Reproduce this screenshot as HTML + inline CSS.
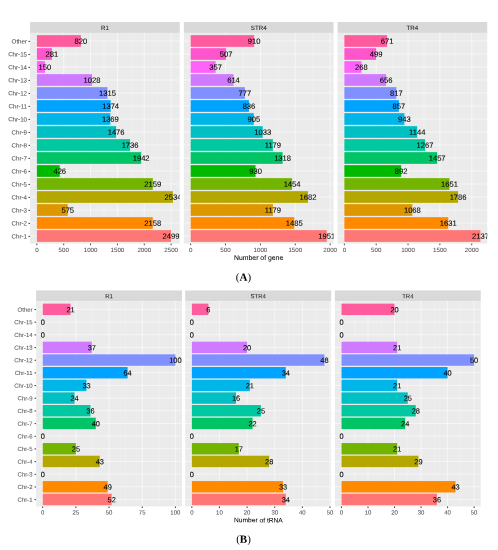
<!DOCTYPE html>
<html><head><meta charset="utf-8"><title>Figure</title>
<style>html,body{margin:0;padding:0;background:#fff}svg{display:block}text{font-family:"Liberation Sans",sans-serif}</style>
</head><body>
<svg width="498" height="550" viewBox="0 0 498 550">
<rect width="498" height="550" fill="#fff"/>
<rect x="30.05" y="22" width="149.7" height="10.9" fill="#d9d9d9"/>
<text transform="translate(104.9,29.97) skewY(0.15)" font-size="6.2" fill="#1a1a1a" stroke="#1a1a1a" stroke-width="0.04" text-anchor="middle">R1</text>
<rect x="30.05" y="32.9" width="149.7" height="210.7" fill="#ebebeb"/>
<line x1="50.28" x2="50.28" y1="32.9" y2="243.6" stroke="#fff" stroke-width="0.22"/>
<line x1="77.13" x2="77.13" y1="32.9" y2="243.6" stroke="#fff" stroke-width="0.22"/>
<line x1="103.99" x2="103.99" y1="32.9" y2="243.6" stroke="#fff" stroke-width="0.22"/>
<line x1="130.84" x2="130.84" y1="32.9" y2="243.6" stroke="#fff" stroke-width="0.22"/>
<line x1="157.69" x2="157.69" y1="32.9" y2="243.6" stroke="#fff" stroke-width="0.22"/>
<line x1="36.85" x2="36.85" y1="32.9" y2="243.6" stroke="#fff" stroke-width="0.55"/>
<line x1="36.85" x2="36.85" y1="243.6" y2="245.2" stroke="#2a2a2a" stroke-width="0.9"/>
<text transform="translate(36.85,251.92) skewY(0.15)" font-size="6.2" fill="#4d4d4d" stroke="#4d4d4d" stroke-width="0.04" text-anchor="middle">0</text>
<line x1="63.71" x2="63.71" y1="32.9" y2="243.6" stroke="#fff" stroke-width="0.55"/>
<line x1="63.71" x2="63.71" y1="243.6" y2="245.2" stroke="#2a2a2a" stroke-width="0.9"/>
<text transform="translate(63.71,251.92) skewY(0.15)" font-size="6.2" fill="#4d4d4d" stroke="#4d4d4d" stroke-width="0.04" text-anchor="middle">500</text>
<line x1="90.56" x2="90.56" y1="32.9" y2="243.6" stroke="#fff" stroke-width="0.55"/>
<line x1="90.56" x2="90.56" y1="243.6" y2="245.2" stroke="#2a2a2a" stroke-width="0.9"/>
<text transform="translate(90.56,251.92) skewY(0.15)" font-size="6.2" fill="#4d4d4d" stroke="#4d4d4d" stroke-width="0.04" text-anchor="middle">1000</text>
<line x1="117.41" x2="117.41" y1="32.9" y2="243.6" stroke="#fff" stroke-width="0.55"/>
<line x1="117.41" x2="117.41" y1="243.6" y2="245.2" stroke="#2a2a2a" stroke-width="0.9"/>
<text transform="translate(117.41,251.92) skewY(0.15)" font-size="6.2" fill="#4d4d4d" stroke="#4d4d4d" stroke-width="0.04" text-anchor="middle">1500</text>
<line x1="144.27" x2="144.27" y1="32.9" y2="243.6" stroke="#fff" stroke-width="0.55"/>
<line x1="144.27" x2="144.27" y1="243.6" y2="245.2" stroke="#2a2a2a" stroke-width="0.9"/>
<text transform="translate(144.27,251.92) skewY(0.15)" font-size="6.2" fill="#4d4d4d" stroke="#4d4d4d" stroke-width="0.04" text-anchor="middle">2000</text>
<line x1="171.12" x2="171.12" y1="32.9" y2="243.6" stroke="#fff" stroke-width="0.55"/>
<line x1="171.12" x2="171.12" y1="243.6" y2="245.2" stroke="#2a2a2a" stroke-width="0.9"/>
<text transform="translate(171.12,251.92) skewY(0.15)" font-size="6.2" fill="#4d4d4d" stroke="#4d4d4d" stroke-width="0.04" text-anchor="middle">2500</text>
<line x1="30.05" x2="179.75" y1="41" y2="41" stroke="#fff" stroke-width="0.55"/>
<line x1="30.05" x2="179.75" y1="54" y2="54" stroke="#fff" stroke-width="0.55"/>
<line x1="30.05" x2="179.75" y1="67" y2="67" stroke="#fff" stroke-width="0.55"/>
<line x1="30.05" x2="179.75" y1="80" y2="80" stroke="#fff" stroke-width="0.55"/>
<line x1="30.05" x2="179.75" y1="93" y2="93" stroke="#fff" stroke-width="0.55"/>
<line x1="30.05" x2="179.75" y1="106" y2="106" stroke="#fff" stroke-width="0.55"/>
<line x1="30.05" x2="179.75" y1="119" y2="119" stroke="#fff" stroke-width="0.55"/>
<line x1="30.05" x2="179.75" y1="132" y2="132" stroke="#fff" stroke-width="0.55"/>
<line x1="30.05" x2="179.75" y1="145" y2="145" stroke="#fff" stroke-width="0.55"/>
<line x1="30.05" x2="179.75" y1="158" y2="158" stroke="#fff" stroke-width="0.55"/>
<line x1="30.05" x2="179.75" y1="171" y2="171" stroke="#fff" stroke-width="0.55"/>
<line x1="30.05" x2="179.75" y1="184" y2="184" stroke="#fff" stroke-width="0.55"/>
<line x1="30.05" x2="179.75" y1="197" y2="197" stroke="#fff" stroke-width="0.55"/>
<line x1="30.05" x2="179.75" y1="210" y2="210" stroke="#fff" stroke-width="0.55"/>
<line x1="30.05" x2="179.75" y1="223" y2="223" stroke="#fff" stroke-width="0.55"/>
<line x1="30.05" x2="179.75" y1="236" y2="236" stroke="#fff" stroke-width="0.55"/>
<rect x="36.85" y="35.15" width="44.04" height="11.7" fill="#FF5C9E"/>
<rect x="36.85" y="48.15" width="15.09" height="11.7" fill="#FF55CC"/>
<rect x="36.85" y="61.15" width="8.06" height="11.7" fill="#FF62F8"/>
<rect x="36.85" y="74.15" width="55.21" height="11.7" fill="#D07AFF"/>
<rect x="36.85" y="87.15" width="70.62" height="11.7" fill="#8090FF"/>
<rect x="36.85" y="100.15" width="73.79" height="11.7" fill="#00A4FF"/>
<rect x="36.85" y="113.15" width="73.52" height="11.7" fill="#00B6E8"/>
<rect x="36.85" y="126.15" width="79.27" height="11.7" fill="#00C0C4"/>
<rect x="36.85" y="139.15" width="93.23" height="11.7" fill="#00C8A0"/>
<rect x="36.85" y="152.15" width="104.3" height="11.7" fill="#00C466"/>
<rect x="36.85" y="165.15" width="22.88" height="11.7" fill="#00BA00"/>
<rect x="36.85" y="178.15" width="115.95" height="11.7" fill="#72B400"/>
<rect x="36.85" y="191.15" width="136.09" height="11.7" fill="#B4A800"/>
<rect x="36.85" y="204.15" width="30.88" height="11.7" fill="#DD9700"/>
<rect x="36.85" y="217.15" width="115.9" height="11.7" fill="#FF8A00"/>
<rect x="36.85" y="230.15" width="134.21" height="11.7" fill="#FF7676"/>
<clipPath id="cA0"><rect x="30.05" y="32.9" width="149.7" height="210.7"/></clipPath><g clip-path="url(#cA0)">
<text transform="translate(80.89,43.82) skewY(0.15)" font-size="7.6" fill="#000" stroke="#000" stroke-width="0.09" text-anchor="middle">820</text>
<text transform="translate(51.95,56.82) skewY(0.15)" font-size="7.6" fill="#000" stroke="#000" stroke-width="0.09" text-anchor="middle">281</text>
<text transform="translate(44.91,69.82) skewY(0.15)" font-size="7.6" fill="#000" stroke="#000" stroke-width="0.09" text-anchor="middle">150</text>
<text transform="translate(92.06,82.82) skewY(0.15)" font-size="7.6" fill="#000" stroke="#000" stroke-width="0.09" text-anchor="middle">1028</text>
<text transform="translate(107.48,95.82) skewY(0.15)" font-size="7.6" fill="#000" stroke="#000" stroke-width="0.09" text-anchor="middle">1315</text>
<text transform="translate(110.65,108.82) skewY(0.15)" font-size="7.6" fill="#000" stroke="#000" stroke-width="0.09" text-anchor="middle">1374</text>
<text transform="translate(110.38,121.82) skewY(0.15)" font-size="7.6" fill="#000" stroke="#000" stroke-width="0.09" text-anchor="middle">1369</text>
<text transform="translate(116.12,134.82) skewY(0.15)" font-size="7.6" fill="#000" stroke="#000" stroke-width="0.09" text-anchor="middle">1476</text>
<text transform="translate(130.09,147.82) skewY(0.15)" font-size="7.6" fill="#000" stroke="#000" stroke-width="0.09" text-anchor="middle">1736</text>
<text transform="translate(141.15,160.82) skewY(0.15)" font-size="7.6" fill="#000" stroke="#000" stroke-width="0.09" text-anchor="middle">1942</text>
<text transform="translate(59.73,173.82) skewY(0.15)" font-size="7.6" fill="#000" stroke="#000" stroke-width="0.09" text-anchor="middle">426</text>
<text transform="translate(152.81,186.82) skewY(0.15)" font-size="7.6" fill="#000" stroke="#000" stroke-width="0.09" text-anchor="middle">2159</text>
<text transform="translate(172.95,199.82) skewY(0.15)" font-size="7.6" fill="#000" stroke="#000" stroke-width="0.09" text-anchor="middle">2534</text>
<text transform="translate(67.74,212.82) skewY(0.15)" font-size="7.6" fill="#000" stroke="#000" stroke-width="0.09" text-anchor="middle">575</text>
<text transform="translate(152.75,225.82) skewY(0.15)" font-size="7.6" fill="#000" stroke="#000" stroke-width="0.09" text-anchor="middle">2158</text>
<text transform="translate(171.07,238.82) skewY(0.15)" font-size="7.6" fill="#000" stroke="#000" stroke-width="0.09" text-anchor="middle">2499</text>
</g>
<line x1="28.45" x2="30.05" y1="41.4" y2="41.4" stroke="#2a2a2a" stroke-width="0.9"/>
<text transform="translate(27.05,43.42) skewY(0.15)" font-size="6.2" fill="#4d4d4d" stroke="#4d4d4d" stroke-width="0.04" text-anchor="end">Other</text>
<line x1="28.45" x2="30.05" y1="54.4" y2="54.4" stroke="#2a2a2a" stroke-width="0.9"/>
<text transform="translate(27.05,56.42) skewY(0.15)" font-size="6.2" fill="#4d4d4d" stroke="#4d4d4d" stroke-width="0.04" text-anchor="end">Chr-15</text>
<line x1="28.45" x2="30.05" y1="67.4" y2="67.4" stroke="#2a2a2a" stroke-width="0.9"/>
<text transform="translate(27.05,69.42) skewY(0.15)" font-size="6.2" fill="#4d4d4d" stroke="#4d4d4d" stroke-width="0.04" text-anchor="end">Chr-14</text>
<line x1="28.45" x2="30.05" y1="80.4" y2="80.4" stroke="#2a2a2a" stroke-width="0.9"/>
<text transform="translate(27.05,82.42) skewY(0.15)" font-size="6.2" fill="#4d4d4d" stroke="#4d4d4d" stroke-width="0.04" text-anchor="end">Chr-13</text>
<line x1="28.45" x2="30.05" y1="93.4" y2="93.4" stroke="#2a2a2a" stroke-width="0.9"/>
<text transform="translate(27.05,95.42) skewY(0.15)" font-size="6.2" fill="#4d4d4d" stroke="#4d4d4d" stroke-width="0.04" text-anchor="end">Chr-12</text>
<line x1="28.45" x2="30.05" y1="106.4" y2="106.4" stroke="#2a2a2a" stroke-width="0.9"/>
<text transform="translate(27.05,108.42) skewY(0.15)" font-size="6.2" fill="#4d4d4d" stroke="#4d4d4d" stroke-width="0.04" text-anchor="end">Chr-11</text>
<line x1="28.45" x2="30.05" y1="119.4" y2="119.4" stroke="#2a2a2a" stroke-width="0.9"/>
<text transform="translate(27.05,121.42) skewY(0.15)" font-size="6.2" fill="#4d4d4d" stroke="#4d4d4d" stroke-width="0.04" text-anchor="end">Chr-10</text>
<line x1="28.45" x2="30.05" y1="132.4" y2="132.4" stroke="#2a2a2a" stroke-width="0.9"/>
<text transform="translate(27.05,134.42) skewY(0.15)" font-size="6.2" fill="#4d4d4d" stroke="#4d4d4d" stroke-width="0.04" text-anchor="end">Chr-9</text>
<line x1="28.45" x2="30.05" y1="145.4" y2="145.4" stroke="#2a2a2a" stroke-width="0.9"/>
<text transform="translate(27.05,147.42) skewY(0.15)" font-size="6.2" fill="#4d4d4d" stroke="#4d4d4d" stroke-width="0.04" text-anchor="end">Chr-8</text>
<line x1="28.45" x2="30.05" y1="158.4" y2="158.4" stroke="#2a2a2a" stroke-width="0.9"/>
<text transform="translate(27.05,160.42) skewY(0.15)" font-size="6.2" fill="#4d4d4d" stroke="#4d4d4d" stroke-width="0.04" text-anchor="end">Chr-7</text>
<line x1="28.45" x2="30.05" y1="171.4" y2="171.4" stroke="#2a2a2a" stroke-width="0.9"/>
<text transform="translate(27.05,173.42) skewY(0.15)" font-size="6.2" fill="#4d4d4d" stroke="#4d4d4d" stroke-width="0.04" text-anchor="end">Chr-6</text>
<line x1="28.45" x2="30.05" y1="184.4" y2="184.4" stroke="#2a2a2a" stroke-width="0.9"/>
<text transform="translate(27.05,186.42) skewY(0.15)" font-size="6.2" fill="#4d4d4d" stroke="#4d4d4d" stroke-width="0.04" text-anchor="end">Chr-5</text>
<line x1="28.45" x2="30.05" y1="197.4" y2="197.4" stroke="#2a2a2a" stroke-width="0.9"/>
<text transform="translate(27.05,199.42) skewY(0.15)" font-size="6.2" fill="#4d4d4d" stroke="#4d4d4d" stroke-width="0.04" text-anchor="end">Chr-4</text>
<line x1="28.45" x2="30.05" y1="210.4" y2="210.4" stroke="#2a2a2a" stroke-width="0.9"/>
<text transform="translate(27.05,212.42) skewY(0.15)" font-size="6.2" fill="#4d4d4d" stroke="#4d4d4d" stroke-width="0.04" text-anchor="end">Chr-3</text>
<line x1="28.45" x2="30.05" y1="223.4" y2="223.4" stroke="#2a2a2a" stroke-width="0.9"/>
<text transform="translate(27.05,225.42) skewY(0.15)" font-size="6.2" fill="#4d4d4d" stroke="#4d4d4d" stroke-width="0.04" text-anchor="end">Chr-2</text>
<line x1="28.45" x2="30.05" y1="236.4" y2="236.4" stroke="#2a2a2a" stroke-width="0.9"/>
<text transform="translate(27.05,238.42) skewY(0.15)" font-size="6.2" fill="#4d4d4d" stroke="#4d4d4d" stroke-width="0.04" text-anchor="end">Chr-1</text>
<rect x="183.85" y="22" width="149.7" height="10.9" fill="#d9d9d9"/>
<text transform="translate(258.7,29.97) skewY(0.15)" font-size="6.2" fill="#1a1a1a" stroke="#1a1a1a" stroke-width="0.04" text-anchor="middle">STR4</text>
<rect x="183.85" y="32.9" width="149.7" height="210.7" fill="#ebebeb"/>
<line x1="208.09" x2="208.09" y1="32.9" y2="243.6" stroke="#fff" stroke-width="0.22"/>
<line x1="242.97" x2="242.97" y1="32.9" y2="243.6" stroke="#fff" stroke-width="0.22"/>
<line x1="277.85" x2="277.85" y1="32.9" y2="243.6" stroke="#fff" stroke-width="0.22"/>
<line x1="312.72" x2="312.72" y1="32.9" y2="243.6" stroke="#fff" stroke-width="0.22"/>
<line x1="190.65" x2="190.65" y1="32.9" y2="243.6" stroke="#fff" stroke-width="0.55"/>
<line x1="190.65" x2="190.65" y1="243.6" y2="245.2" stroke="#2a2a2a" stroke-width="0.9"/>
<text transform="translate(190.65,251.92) skewY(0.15)" font-size="6.2" fill="#4d4d4d" stroke="#4d4d4d" stroke-width="0.04" text-anchor="middle">0</text>
<line x1="225.53" x2="225.53" y1="32.9" y2="243.6" stroke="#fff" stroke-width="0.55"/>
<line x1="225.53" x2="225.53" y1="243.6" y2="245.2" stroke="#2a2a2a" stroke-width="0.9"/>
<text transform="translate(225.53,251.92) skewY(0.15)" font-size="6.2" fill="#4d4d4d" stroke="#4d4d4d" stroke-width="0.04" text-anchor="middle">500</text>
<line x1="260.41" x2="260.41" y1="32.9" y2="243.6" stroke="#fff" stroke-width="0.55"/>
<line x1="260.41" x2="260.41" y1="243.6" y2="245.2" stroke="#2a2a2a" stroke-width="0.9"/>
<text transform="translate(260.41,251.92) skewY(0.15)" font-size="6.2" fill="#4d4d4d" stroke="#4d4d4d" stroke-width="0.04" text-anchor="middle">1000</text>
<line x1="295.29" x2="295.29" y1="32.9" y2="243.6" stroke="#fff" stroke-width="0.55"/>
<line x1="295.29" x2="295.29" y1="243.6" y2="245.2" stroke="#2a2a2a" stroke-width="0.9"/>
<text transform="translate(295.29,251.92) skewY(0.15)" font-size="6.2" fill="#4d4d4d" stroke="#4d4d4d" stroke-width="0.04" text-anchor="middle">1500</text>
<line x1="330.16" x2="330.16" y1="32.9" y2="243.6" stroke="#fff" stroke-width="0.55"/>
<line x1="330.16" x2="330.16" y1="243.6" y2="245.2" stroke="#2a2a2a" stroke-width="0.9"/>
<text transform="translate(330.16,251.92) skewY(0.15)" font-size="6.2" fill="#4d4d4d" stroke="#4d4d4d" stroke-width="0.04" text-anchor="middle">2000</text>
<line x1="183.85" x2="333.55" y1="41" y2="41" stroke="#fff" stroke-width="0.55"/>
<line x1="183.85" x2="333.55" y1="54" y2="54" stroke="#fff" stroke-width="0.55"/>
<line x1="183.85" x2="333.55" y1="67" y2="67" stroke="#fff" stroke-width="0.55"/>
<line x1="183.85" x2="333.55" y1="80" y2="80" stroke="#fff" stroke-width="0.55"/>
<line x1="183.85" x2="333.55" y1="93" y2="93" stroke="#fff" stroke-width="0.55"/>
<line x1="183.85" x2="333.55" y1="106" y2="106" stroke="#fff" stroke-width="0.55"/>
<line x1="183.85" x2="333.55" y1="119" y2="119" stroke="#fff" stroke-width="0.55"/>
<line x1="183.85" x2="333.55" y1="132" y2="132" stroke="#fff" stroke-width="0.55"/>
<line x1="183.85" x2="333.55" y1="145" y2="145" stroke="#fff" stroke-width="0.55"/>
<line x1="183.85" x2="333.55" y1="158" y2="158" stroke="#fff" stroke-width="0.55"/>
<line x1="183.85" x2="333.55" y1="171" y2="171" stroke="#fff" stroke-width="0.55"/>
<line x1="183.85" x2="333.55" y1="184" y2="184" stroke="#fff" stroke-width="0.55"/>
<line x1="183.85" x2="333.55" y1="197" y2="197" stroke="#fff" stroke-width="0.55"/>
<line x1="183.85" x2="333.55" y1="210" y2="210" stroke="#fff" stroke-width="0.55"/>
<line x1="183.85" x2="333.55" y1="223" y2="223" stroke="#fff" stroke-width="0.55"/>
<line x1="183.85" x2="333.55" y1="236" y2="236" stroke="#fff" stroke-width="0.55"/>
<rect x="190.65" y="35.15" width="63.48" height="11.7" fill="#FF5C9E"/>
<rect x="190.65" y="48.15" width="35.37" height="11.7" fill="#FF55CC"/>
<rect x="190.65" y="61.15" width="24.9" height="11.7" fill="#FF62F8"/>
<rect x="190.65" y="74.15" width="42.83" height="11.7" fill="#D07AFF"/>
<rect x="190.65" y="87.15" width="54.2" height="11.7" fill="#8090FF"/>
<rect x="190.65" y="100.15" width="58.31" height="11.7" fill="#00A4FF"/>
<rect x="190.65" y="113.15" width="63.13" height="11.7" fill="#00B6E8"/>
<rect x="190.65" y="126.15" width="72.06" height="11.7" fill="#00C0C4"/>
<rect x="190.65" y="139.15" width="82.24" height="11.7" fill="#00C8A0"/>
<rect x="190.65" y="152.15" width="91.94" height="11.7" fill="#00C466"/>
<rect x="190.65" y="165.15" width="64.87" height="11.7" fill="#00BA00"/>
<rect x="190.65" y="178.15" width="101.42" height="11.7" fill="#72B400"/>
<rect x="190.65" y="191.15" width="117.33" height="11.7" fill="#B4A800"/>
<rect x="190.65" y="204.15" width="82.24" height="11.7" fill="#DD9700"/>
<rect x="190.65" y="217.15" width="103.59" height="11.7" fill="#FF8A00"/>
<rect x="190.65" y="230.15" width="136.09" height="11.7" fill="#FF7676"/>
<clipPath id="cA1"><rect x="183.85" y="32.9" width="149.7" height="210.7"/></clipPath><g clip-path="url(#cA1)">
<text transform="translate(254.13,43.82) skewY(0.15)" font-size="7.6" fill="#000" stroke="#000" stroke-width="0.09" text-anchor="middle">910</text>
<text transform="translate(226.02,56.82) skewY(0.15)" font-size="7.6" fill="#000" stroke="#000" stroke-width="0.09" text-anchor="middle">507</text>
<text transform="translate(215.56,69.82) skewY(0.15)" font-size="7.6" fill="#000" stroke="#000" stroke-width="0.09" text-anchor="middle">357</text>
<text transform="translate(233.48,82.82) skewY(0.15)" font-size="7.6" fill="#000" stroke="#000" stroke-width="0.09" text-anchor="middle">614</text>
<text transform="translate(244.85,95.82) skewY(0.15)" font-size="7.6" fill="#000" stroke="#000" stroke-width="0.09" text-anchor="middle">777</text>
<text transform="translate(248.97,108.82) skewY(0.15)" font-size="7.6" fill="#000" stroke="#000" stroke-width="0.09" text-anchor="middle">836</text>
<text transform="translate(253.78,121.82) skewY(0.15)" font-size="7.6" fill="#000" stroke="#000" stroke-width="0.09" text-anchor="middle">905</text>
<text transform="translate(262.71,134.82) skewY(0.15)" font-size="7.6" fill="#000" stroke="#000" stroke-width="0.09" text-anchor="middle">1033</text>
<text transform="translate(272.9,147.82) skewY(0.15)" font-size="7.6" fill="#000" stroke="#000" stroke-width="0.09" text-anchor="middle">1179</text>
<text transform="translate(282.59,160.82) skewY(0.15)" font-size="7.6" fill="#000" stroke="#000" stroke-width="0.09" text-anchor="middle">1318</text>
<text transform="translate(255.53,173.82) skewY(0.15)" font-size="7.6" fill="#000" stroke="#000" stroke-width="0.09" text-anchor="middle">930</text>
<text transform="translate(292.08,186.82) skewY(0.15)" font-size="7.6" fill="#000" stroke="#000" stroke-width="0.09" text-anchor="middle">1454</text>
<text transform="translate(307.98,199.82) skewY(0.15)" font-size="7.6" fill="#000" stroke="#000" stroke-width="0.09" text-anchor="middle">1682</text>
<text transform="translate(272.9,212.82) skewY(0.15)" font-size="7.6" fill="#000" stroke="#000" stroke-width="0.09" text-anchor="middle">1179</text>
<text transform="translate(294.24,225.82) skewY(0.15)" font-size="7.6" fill="#000" stroke="#000" stroke-width="0.09" text-anchor="middle">1485</text>
<text transform="translate(326.75,238.82) skewY(0.15)" font-size="7.6" fill="#000" stroke="#000" stroke-width="0.09" text-anchor="middle">1951</text>
</g>
<rect x="337.55" y="22" width="149.7" height="10.9" fill="#d9d9d9"/>
<text transform="translate(412.4,29.97) skewY(0.15)" font-size="6.2" fill="#1a1a1a" stroke="#1a1a1a" stroke-width="0.04" text-anchor="middle">TR4</text>
<rect x="337.55" y="32.9" width="149.7" height="210.7" fill="#ebebeb"/>
<line x1="360.28" x2="360.28" y1="32.9" y2="243.6" stroke="#fff" stroke-width="0.22"/>
<line x1="392.12" x2="392.12" y1="32.9" y2="243.6" stroke="#fff" stroke-width="0.22"/>
<line x1="423.96" x2="423.96" y1="32.9" y2="243.6" stroke="#fff" stroke-width="0.22"/>
<line x1="455.8" x2="455.8" y1="32.9" y2="243.6" stroke="#fff" stroke-width="0.22"/>
<line x1="344.35" x2="344.35" y1="32.9" y2="243.6" stroke="#fff" stroke-width="0.55"/>
<line x1="344.35" x2="344.35" y1="243.6" y2="245.2" stroke="#2a2a2a" stroke-width="0.9"/>
<text transform="translate(344.35,251.92) skewY(0.15)" font-size="6.2" fill="#4d4d4d" stroke="#4d4d4d" stroke-width="0.04" text-anchor="middle">0</text>
<line x1="376.2" x2="376.2" y1="32.9" y2="243.6" stroke="#fff" stroke-width="0.55"/>
<line x1="376.2" x2="376.2" y1="243.6" y2="245.2" stroke="#2a2a2a" stroke-width="0.9"/>
<text transform="translate(376.2,251.92) skewY(0.15)" font-size="6.2" fill="#4d4d4d" stroke="#4d4d4d" stroke-width="0.04" text-anchor="middle">500</text>
<line x1="408.04" x2="408.04" y1="32.9" y2="243.6" stroke="#fff" stroke-width="0.55"/>
<line x1="408.04" x2="408.04" y1="243.6" y2="245.2" stroke="#2a2a2a" stroke-width="0.9"/>
<text transform="translate(408.04,251.92) skewY(0.15)" font-size="6.2" fill="#4d4d4d" stroke="#4d4d4d" stroke-width="0.04" text-anchor="middle">1000</text>
<line x1="439.88" x2="439.88" y1="32.9" y2="243.6" stroke="#fff" stroke-width="0.55"/>
<line x1="439.88" x2="439.88" y1="243.6" y2="245.2" stroke="#2a2a2a" stroke-width="0.9"/>
<text transform="translate(439.88,251.92) skewY(0.15)" font-size="6.2" fill="#4d4d4d" stroke="#4d4d4d" stroke-width="0.04" text-anchor="middle">1500</text>
<line x1="471.72" x2="471.72" y1="32.9" y2="243.6" stroke="#fff" stroke-width="0.55"/>
<line x1="471.72" x2="471.72" y1="243.6" y2="245.2" stroke="#2a2a2a" stroke-width="0.9"/>
<text transform="translate(471.72,251.92) skewY(0.15)" font-size="6.2" fill="#4d4d4d" stroke="#4d4d4d" stroke-width="0.04" text-anchor="middle">2000</text>
<line x1="337.55" x2="487.25" y1="41" y2="41" stroke="#fff" stroke-width="0.55"/>
<line x1="337.55" x2="487.25" y1="54" y2="54" stroke="#fff" stroke-width="0.55"/>
<line x1="337.55" x2="487.25" y1="67" y2="67" stroke="#fff" stroke-width="0.55"/>
<line x1="337.55" x2="487.25" y1="80" y2="80" stroke="#fff" stroke-width="0.55"/>
<line x1="337.55" x2="487.25" y1="93" y2="93" stroke="#fff" stroke-width="0.55"/>
<line x1="337.55" x2="487.25" y1="106" y2="106" stroke="#fff" stroke-width="0.55"/>
<line x1="337.55" x2="487.25" y1="119" y2="119" stroke="#fff" stroke-width="0.55"/>
<line x1="337.55" x2="487.25" y1="132" y2="132" stroke="#fff" stroke-width="0.55"/>
<line x1="337.55" x2="487.25" y1="145" y2="145" stroke="#fff" stroke-width="0.55"/>
<line x1="337.55" x2="487.25" y1="158" y2="158" stroke="#fff" stroke-width="0.55"/>
<line x1="337.55" x2="487.25" y1="171" y2="171" stroke="#fff" stroke-width="0.55"/>
<line x1="337.55" x2="487.25" y1="184" y2="184" stroke="#fff" stroke-width="0.55"/>
<line x1="337.55" x2="487.25" y1="197" y2="197" stroke="#fff" stroke-width="0.55"/>
<line x1="337.55" x2="487.25" y1="210" y2="210" stroke="#fff" stroke-width="0.55"/>
<line x1="337.55" x2="487.25" y1="223" y2="223" stroke="#fff" stroke-width="0.55"/>
<line x1="337.55" x2="487.25" y1="236" y2="236" stroke="#fff" stroke-width="0.55"/>
<rect x="344.35" y="35.15" width="42.73" height="11.7" fill="#FF5C9E"/>
<rect x="344.35" y="48.15" width="31.78" height="11.7" fill="#FF55CC"/>
<rect x="344.35" y="61.15" width="17.07" height="11.7" fill="#FF62F8"/>
<rect x="344.35" y="74.15" width="41.78" height="11.7" fill="#D07AFF"/>
<rect x="344.35" y="87.15" width="52.03" height="11.7" fill="#8090FF"/>
<rect x="344.35" y="100.15" width="54.58" height="11.7" fill="#00A4FF"/>
<rect x="344.35" y="113.15" width="60.05" height="11.7" fill="#00B6E8"/>
<rect x="344.35" y="126.15" width="72.85" height="11.7" fill="#00C0C4"/>
<rect x="344.35" y="139.15" width="80.69" height="11.7" fill="#00C8A0"/>
<rect x="344.35" y="152.15" width="92.79" height="11.7" fill="#00C466"/>
<rect x="344.35" y="165.15" width="56.81" height="11.7" fill="#00BA00"/>
<rect x="344.35" y="178.15" width="105.14" height="11.7" fill="#72B400"/>
<rect x="344.35" y="191.15" width="113.74" height="11.7" fill="#B4A800"/>
<rect x="344.35" y="204.15" width="68.01" height="11.7" fill="#DD9700"/>
<rect x="344.35" y="217.15" width="103.87" height="11.7" fill="#FF8A00"/>
<rect x="344.35" y="230.15" width="136.09" height="11.7" fill="#FF7676"/>
<clipPath id="cA2"><rect x="337.55" y="32.9" width="149.7" height="210.7"/></clipPath><g clip-path="url(#cA2)">
<text transform="translate(387.09,43.82) skewY(0.15)" font-size="7.6" fill="#000" stroke="#000" stroke-width="0.09" text-anchor="middle">671</text>
<text transform="translate(376.13,56.82) skewY(0.15)" font-size="7.6" fill="#000" stroke="#000" stroke-width="0.09" text-anchor="middle">499</text>
<text transform="translate(361.42,69.82) skewY(0.15)" font-size="7.6" fill="#000" stroke="#000" stroke-width="0.09" text-anchor="middle">268</text>
<text transform="translate(386.13,82.82) skewY(0.15)" font-size="7.6" fill="#000" stroke="#000" stroke-width="0.09" text-anchor="middle">656</text>
<text transform="translate(396.38,95.82) skewY(0.15)" font-size="7.6" fill="#000" stroke="#000" stroke-width="0.09" text-anchor="middle">817</text>
<text transform="translate(398.93,108.82) skewY(0.15)" font-size="7.6" fill="#000" stroke="#000" stroke-width="0.09" text-anchor="middle">857</text>
<text transform="translate(404.41,121.82) skewY(0.15)" font-size="7.6" fill="#000" stroke="#000" stroke-width="0.09" text-anchor="middle">943</text>
<text transform="translate(417.21,134.82) skewY(0.15)" font-size="7.6" fill="#000" stroke="#000" stroke-width="0.09" text-anchor="middle">1144</text>
<text transform="translate(425.04,147.82) skewY(0.15)" font-size="7.6" fill="#000" stroke="#000" stroke-width="0.09" text-anchor="middle">1267</text>
<text transform="translate(437.14,160.82) skewY(0.15)" font-size="7.6" fill="#000" stroke="#000" stroke-width="0.09" text-anchor="middle">1457</text>
<text transform="translate(401.16,173.82) skewY(0.15)" font-size="7.6" fill="#000" stroke="#000" stroke-width="0.09" text-anchor="middle">892</text>
<text transform="translate(449.5,186.82) skewY(0.15)" font-size="7.6" fill="#000" stroke="#000" stroke-width="0.09" text-anchor="middle">1651</text>
<text transform="translate(458.09,199.82) skewY(0.15)" font-size="7.6" fill="#000" stroke="#000" stroke-width="0.09" text-anchor="middle">1786</text>
<text transform="translate(412.37,212.82) skewY(0.15)" font-size="7.6" fill="#000" stroke="#000" stroke-width="0.09" text-anchor="middle">1068</text>
<text transform="translate(448.22,225.82) skewY(0.15)" font-size="7.6" fill="#000" stroke="#000" stroke-width="0.09" text-anchor="middle">1631</text>
<text transform="translate(480.45,238.82) skewY(0.15)" font-size="7.6" fill="#000" stroke="#000" stroke-width="0.09" text-anchor="middle">2137</text>
</g>
<text transform="translate(258.65,259.95) skewY(0.15)" font-size="6.85" fill="#000" stroke="#000" stroke-width="0.04" text-anchor="middle">Number of gene</text>
<text transform="translate(243.5,280.64) skewY(0.15)" font-size="11" fill="#000" stroke="#000" stroke-width="0" text-anchor="middle" style="font-family:'Liberation Serif',serif">(<tspan font-weight="bold">A</tspan>)</text>
<rect x="36.1" y="290.45" width="145.9" height="10.8" fill="#d9d9d9"/>
<text transform="translate(109.05,298.3) skewY(0.15)" font-size="6.0" fill="#1a1a1a" stroke="#1a1a1a" stroke-width="0.04" text-anchor="middle">R1</text>
<rect x="36.1" y="301.25" width="145.9" height="205.2" fill="#ebebeb"/>
<line x1="59.31" x2="59.31" y1="301.25" y2="506.45" stroke="#fff" stroke-width="0.22"/>
<line x1="92.47" x2="92.47" y1="301.25" y2="506.45" stroke="#fff" stroke-width="0.22"/>
<line x1="125.63" x2="125.63" y1="301.25" y2="506.45" stroke="#fff" stroke-width="0.22"/>
<line x1="158.79" x2="158.79" y1="301.25" y2="506.45" stroke="#fff" stroke-width="0.22"/>
<line x1="42.73" x2="42.73" y1="301.25" y2="506.45" stroke="#fff" stroke-width="0.55"/>
<line x1="42.73" x2="42.73" y1="506.45" y2="508.05" stroke="#2a2a2a" stroke-width="0.9"/>
<text transform="translate(42.73,514.45) skewY(0.15)" font-size="6.0" fill="#4d4d4d" stroke="#4d4d4d" stroke-width="0.04" text-anchor="middle">0</text>
<line x1="75.89" x2="75.89" y1="301.25" y2="506.45" stroke="#fff" stroke-width="0.55"/>
<line x1="75.89" x2="75.89" y1="506.45" y2="508.05" stroke="#2a2a2a" stroke-width="0.9"/>
<text transform="translate(75.89,514.45) skewY(0.15)" font-size="6.0" fill="#4d4d4d" stroke="#4d4d4d" stroke-width="0.04" text-anchor="middle">25</text>
<line x1="109.05" x2="109.05" y1="301.25" y2="506.45" stroke="#fff" stroke-width="0.55"/>
<line x1="109.05" x2="109.05" y1="506.45" y2="508.05" stroke="#2a2a2a" stroke-width="0.9"/>
<text transform="translate(109.05,514.45) skewY(0.15)" font-size="6.0" fill="#4d4d4d" stroke="#4d4d4d" stroke-width="0.04" text-anchor="middle">50</text>
<line x1="142.21" x2="142.21" y1="301.25" y2="506.45" stroke="#fff" stroke-width="0.55"/>
<line x1="142.21" x2="142.21" y1="506.45" y2="508.05" stroke="#2a2a2a" stroke-width="0.9"/>
<text transform="translate(142.21,514.45) skewY(0.15)" font-size="6.0" fill="#4d4d4d" stroke="#4d4d4d" stroke-width="0.04" text-anchor="middle">75</text>
<line x1="175.37" x2="175.37" y1="301.25" y2="506.45" stroke="#fff" stroke-width="0.55"/>
<line x1="175.37" x2="175.37" y1="506.45" y2="508.05" stroke="#2a2a2a" stroke-width="0.9"/>
<text transform="translate(175.37,514.45) skewY(0.15)" font-size="6.0" fill="#4d4d4d" stroke="#4d4d4d" stroke-width="0.04" text-anchor="middle">100</text>
<line x1="36.1" x2="182" y1="309.35" y2="309.35" stroke="#fff" stroke-width="0.55"/>
<line x1="36.1" x2="182" y1="322.02" y2="322.02" stroke="#fff" stroke-width="0.55"/>
<line x1="36.1" x2="182" y1="334.7" y2="334.7" stroke="#fff" stroke-width="0.55"/>
<line x1="36.1" x2="182" y1="347.37" y2="347.37" stroke="#fff" stroke-width="0.55"/>
<line x1="36.1" x2="182" y1="360.04" y2="360.04" stroke="#fff" stroke-width="0.55"/>
<line x1="36.1" x2="182" y1="372.72" y2="372.72" stroke="#fff" stroke-width="0.55"/>
<line x1="36.1" x2="182" y1="385.39" y2="385.39" stroke="#fff" stroke-width="0.55"/>
<line x1="36.1" x2="182" y1="398.06" y2="398.06" stroke="#fff" stroke-width="0.55"/>
<line x1="36.1" x2="182" y1="410.73" y2="410.73" stroke="#fff" stroke-width="0.55"/>
<line x1="36.1" x2="182" y1="423.41" y2="423.41" stroke="#fff" stroke-width="0.55"/>
<line x1="36.1" x2="182" y1="436.08" y2="436.08" stroke="#fff" stroke-width="0.55"/>
<line x1="36.1" x2="182" y1="448.75" y2="448.75" stroke="#fff" stroke-width="0.55"/>
<line x1="36.1" x2="182" y1="461.43" y2="461.43" stroke="#fff" stroke-width="0.55"/>
<line x1="36.1" x2="182" y1="474.1" y2="474.1" stroke="#fff" stroke-width="0.55"/>
<line x1="36.1" x2="182" y1="486.77" y2="486.77" stroke="#fff" stroke-width="0.55"/>
<line x1="36.1" x2="182" y1="499.45" y2="499.45" stroke="#fff" stroke-width="0.55"/>
<rect x="42.73" y="303.65" width="27.85" height="11.41" fill="#FF5C9E"/>
<rect x="42.73" y="341.67" width="49.08" height="11.41" fill="#D07AFF"/>
<rect x="42.73" y="354.34" width="132.64" height="11.41" fill="#8090FF"/>
<rect x="42.73" y="367.01" width="84.89" height="11.41" fill="#00A4FF"/>
<rect x="42.73" y="379.69" width="43.77" height="11.41" fill="#00B6E8"/>
<rect x="42.73" y="392.36" width="31.83" height="11.41" fill="#00C0C4"/>
<rect x="42.73" y="405.03" width="47.75" height="11.41" fill="#00C8A0"/>
<rect x="42.73" y="417.7" width="53.05" height="11.41" fill="#00C466"/>
<rect x="42.73" y="443.05" width="33.16" height="11.41" fill="#72B400"/>
<rect x="42.73" y="455.72" width="57.03" height="11.41" fill="#B4A800"/>
<rect x="42.73" y="481.07" width="64.99" height="11.41" fill="#FF8A00"/>
<rect x="42.73" y="493.74" width="68.97" height="11.41" fill="#FF7676"/>
<clipPath id="cB0"><rect x="36.1" y="301.25" width="145.9" height="205.2"/></clipPath><g clip-path="url(#cB0)">
<text transform="translate(70.59,312.15) skewY(0.15)" font-size="7.4" fill="#000" stroke="#000" stroke-width="0.09" text-anchor="middle">21</text>
<text transform="translate(42.73,324.82) skewY(0.15)" font-size="7.4" fill="#000" stroke="#000" stroke-width="0.09" text-anchor="middle">0</text>
<text transform="translate(42.73,337.5) skewY(0.15)" font-size="7.4" fill="#000" stroke="#000" stroke-width="0.09" text-anchor="middle">0</text>
<text transform="translate(91.81,350.17) skewY(0.15)" font-size="7.4" fill="#000" stroke="#000" stroke-width="0.09" text-anchor="middle">37</text>
<text transform="translate(175.37,362.84) skewY(0.15)" font-size="7.4" fill="#000" stroke="#000" stroke-width="0.09" text-anchor="middle">100</text>
<text transform="translate(127.62,375.51) skewY(0.15)" font-size="7.4" fill="#000" stroke="#000" stroke-width="0.09" text-anchor="middle">64</text>
<text transform="translate(86.5,388.19) skewY(0.15)" font-size="7.4" fill="#000" stroke="#000" stroke-width="0.09" text-anchor="middle">33</text>
<text transform="translate(74.56,400.86) skewY(0.15)" font-size="7.4" fill="#000" stroke="#000" stroke-width="0.09" text-anchor="middle">24</text>
<text transform="translate(90.48,413.53) skewY(0.15)" font-size="7.4" fill="#000" stroke="#000" stroke-width="0.09" text-anchor="middle">36</text>
<text transform="translate(95.79,426.21) skewY(0.15)" font-size="7.4" fill="#000" stroke="#000" stroke-width="0.09" text-anchor="middle">40</text>
<text transform="translate(42.73,438.88) skewY(0.15)" font-size="7.4" fill="#000" stroke="#000" stroke-width="0.09" text-anchor="middle">0</text>
<text transform="translate(75.89,451.55) skewY(0.15)" font-size="7.4" fill="#000" stroke="#000" stroke-width="0.09" text-anchor="middle">25</text>
<text transform="translate(99.77,464.23) skewY(0.15)" font-size="7.4" fill="#000" stroke="#000" stroke-width="0.09" text-anchor="middle">43</text>
<text transform="translate(42.73,476.9) skewY(0.15)" font-size="7.4" fill="#000" stroke="#000" stroke-width="0.09" text-anchor="middle">0</text>
<text transform="translate(107.72,489.57) skewY(0.15)" font-size="7.4" fill="#000" stroke="#000" stroke-width="0.09" text-anchor="middle">49</text>
<text transform="translate(111.7,502.24) skewY(0.15)" font-size="7.4" fill="#000" stroke="#000" stroke-width="0.09" text-anchor="middle">52</text>
</g>
<line x1="34.5" x2="36.1" y1="309.55" y2="309.55" stroke="#2a2a2a" stroke-width="0.9"/>
<text transform="translate(32.6,311.7) skewY(0.15)" font-size="6.0" fill="#4d4d4d" stroke="#4d4d4d" stroke-width="0.04" text-anchor="end">Other</text>
<line x1="34.5" x2="36.1" y1="322.22" y2="322.22" stroke="#2a2a2a" stroke-width="0.9"/>
<text transform="translate(32.6,324.37) skewY(0.15)" font-size="6.0" fill="#4d4d4d" stroke="#4d4d4d" stroke-width="0.04" text-anchor="end">Chr-15</text>
<line x1="34.5" x2="36.1" y1="334.9" y2="334.9" stroke="#2a2a2a" stroke-width="0.9"/>
<text transform="translate(32.6,337.04) skewY(0.15)" font-size="6.0" fill="#4d4d4d" stroke="#4d4d4d" stroke-width="0.04" text-anchor="end">Chr-14</text>
<line x1="34.5" x2="36.1" y1="347.57" y2="347.57" stroke="#2a2a2a" stroke-width="0.9"/>
<text transform="translate(32.6,349.72) skewY(0.15)" font-size="6.0" fill="#4d4d4d" stroke="#4d4d4d" stroke-width="0.04" text-anchor="end">Chr-13</text>
<line x1="34.5" x2="36.1" y1="360.24" y2="360.24" stroke="#2a2a2a" stroke-width="0.9"/>
<text transform="translate(32.6,362.39) skewY(0.15)" font-size="6.0" fill="#4d4d4d" stroke="#4d4d4d" stroke-width="0.04" text-anchor="end">Chr-12</text>
<line x1="34.5" x2="36.1" y1="372.92" y2="372.92" stroke="#2a2a2a" stroke-width="0.9"/>
<text transform="translate(32.6,375.06) skewY(0.15)" font-size="6.0" fill="#4d4d4d" stroke="#4d4d4d" stroke-width="0.04" text-anchor="end">Chr-11</text>
<line x1="34.5" x2="36.1" y1="385.59" y2="385.59" stroke="#2a2a2a" stroke-width="0.9"/>
<text transform="translate(32.6,387.74) skewY(0.15)" font-size="6.0" fill="#4d4d4d" stroke="#4d4d4d" stroke-width="0.04" text-anchor="end">Chr-10</text>
<line x1="34.5" x2="36.1" y1="398.26" y2="398.26" stroke="#2a2a2a" stroke-width="0.9"/>
<text transform="translate(32.6,400.41) skewY(0.15)" font-size="6.0" fill="#4d4d4d" stroke="#4d4d4d" stroke-width="0.04" text-anchor="end">Chr-9</text>
<line x1="34.5" x2="36.1" y1="410.93" y2="410.93" stroke="#2a2a2a" stroke-width="0.9"/>
<text transform="translate(32.6,413.08) skewY(0.15)" font-size="6.0" fill="#4d4d4d" stroke="#4d4d4d" stroke-width="0.04" text-anchor="end">Chr-8</text>
<line x1="34.5" x2="36.1" y1="423.61" y2="423.61" stroke="#2a2a2a" stroke-width="0.9"/>
<text transform="translate(32.6,425.76) skewY(0.15)" font-size="6.0" fill="#4d4d4d" stroke="#4d4d4d" stroke-width="0.04" text-anchor="end">Chr-7</text>
<line x1="34.5" x2="36.1" y1="436.28" y2="436.28" stroke="#2a2a2a" stroke-width="0.9"/>
<text transform="translate(32.6,438.43) skewY(0.15)" font-size="6.0" fill="#4d4d4d" stroke="#4d4d4d" stroke-width="0.04" text-anchor="end">Chr-6</text>
<line x1="34.5" x2="36.1" y1="448.95" y2="448.95" stroke="#2a2a2a" stroke-width="0.9"/>
<text transform="translate(32.6,451.1) skewY(0.15)" font-size="6.0" fill="#4d4d4d" stroke="#4d4d4d" stroke-width="0.04" text-anchor="end">Chr-5</text>
<line x1="34.5" x2="36.1" y1="461.63" y2="461.63" stroke="#2a2a2a" stroke-width="0.9"/>
<text transform="translate(32.6,463.77) skewY(0.15)" font-size="6.0" fill="#4d4d4d" stroke="#4d4d4d" stroke-width="0.04" text-anchor="end">Chr-4</text>
<line x1="34.5" x2="36.1" y1="474.3" y2="474.3" stroke="#2a2a2a" stroke-width="0.9"/>
<text transform="translate(32.6,476.45) skewY(0.15)" font-size="6.0" fill="#4d4d4d" stroke="#4d4d4d" stroke-width="0.04" text-anchor="end">Chr-3</text>
<line x1="34.5" x2="36.1" y1="486.97" y2="486.97" stroke="#2a2a2a" stroke-width="0.9"/>
<text transform="translate(32.6,489.12) skewY(0.15)" font-size="6.0" fill="#4d4d4d" stroke="#4d4d4d" stroke-width="0.04" text-anchor="end">Chr-2</text>
<line x1="34.5" x2="36.1" y1="499.65" y2="499.65" stroke="#2a2a2a" stroke-width="0.9"/>
<text transform="translate(32.6,501.79) skewY(0.15)" font-size="6.0" fill="#4d4d4d" stroke="#4d4d4d" stroke-width="0.04" text-anchor="end">Chr-1</text>
<rect x="185.2" y="290.45" width="145.9" height="10.8" fill="#d9d9d9"/>
<text transform="translate(258.15,298.3) skewY(0.15)" font-size="6.0" fill="#1a1a1a" stroke="#1a1a1a" stroke-width="0.04" text-anchor="middle">STR4</text>
<rect x="185.2" y="301.25" width="145.9" height="205.2" fill="#ebebeb"/>
<line x1="205.65" x2="205.65" y1="301.25" y2="506.45" stroke="#fff" stroke-width="0.22"/>
<line x1="233.28" x2="233.28" y1="301.25" y2="506.45" stroke="#fff" stroke-width="0.22"/>
<line x1="260.91" x2="260.91" y1="301.25" y2="506.45" stroke="#fff" stroke-width="0.22"/>
<line x1="288.55" x2="288.55" y1="301.25" y2="506.45" stroke="#fff" stroke-width="0.22"/>
<line x1="316.18" x2="316.18" y1="301.25" y2="506.45" stroke="#fff" stroke-width="0.22"/>
<line x1="191.83" x2="191.83" y1="301.25" y2="506.45" stroke="#fff" stroke-width="0.55"/>
<line x1="191.83" x2="191.83" y1="506.45" y2="508.05" stroke="#2a2a2a" stroke-width="0.9"/>
<text transform="translate(191.83,514.45) skewY(0.15)" font-size="6.0" fill="#4d4d4d" stroke="#4d4d4d" stroke-width="0.04" text-anchor="middle">0</text>
<line x1="219.46" x2="219.46" y1="301.25" y2="506.45" stroke="#fff" stroke-width="0.55"/>
<line x1="219.46" x2="219.46" y1="506.45" y2="508.05" stroke="#2a2a2a" stroke-width="0.9"/>
<text transform="translate(219.46,514.45) skewY(0.15)" font-size="6.0" fill="#4d4d4d" stroke="#4d4d4d" stroke-width="0.04" text-anchor="middle">10</text>
<line x1="247.1" x2="247.1" y1="301.25" y2="506.45" stroke="#fff" stroke-width="0.55"/>
<line x1="247.1" x2="247.1" y1="506.45" y2="508.05" stroke="#2a2a2a" stroke-width="0.9"/>
<text transform="translate(247.1,514.45) skewY(0.15)" font-size="6.0" fill="#4d4d4d" stroke="#4d4d4d" stroke-width="0.04" text-anchor="middle">20</text>
<line x1="274.73" x2="274.73" y1="301.25" y2="506.45" stroke="#fff" stroke-width="0.55"/>
<line x1="274.73" x2="274.73" y1="506.45" y2="508.05" stroke="#2a2a2a" stroke-width="0.9"/>
<text transform="translate(274.73,514.45) skewY(0.15)" font-size="6.0" fill="#4d4d4d" stroke="#4d4d4d" stroke-width="0.04" text-anchor="middle">30</text>
<line x1="302.36" x2="302.36" y1="301.25" y2="506.45" stroke="#fff" stroke-width="0.55"/>
<line x1="302.36" x2="302.36" y1="506.45" y2="508.05" stroke="#2a2a2a" stroke-width="0.9"/>
<text transform="translate(302.36,514.45) skewY(0.15)" font-size="6.0" fill="#4d4d4d" stroke="#4d4d4d" stroke-width="0.04" text-anchor="middle">40</text>
<line x1="329.99" x2="329.99" y1="301.25" y2="506.45" stroke="#fff" stroke-width="0.55"/>
<line x1="329.99" x2="329.99" y1="506.45" y2="508.05" stroke="#2a2a2a" stroke-width="0.9"/>
<text transform="translate(329.99,514.45) skewY(0.15)" font-size="6.0" fill="#4d4d4d" stroke="#4d4d4d" stroke-width="0.04" text-anchor="middle">50</text>
<line x1="185.2" x2="331.1" y1="309.35" y2="309.35" stroke="#fff" stroke-width="0.55"/>
<line x1="185.2" x2="331.1" y1="322.02" y2="322.02" stroke="#fff" stroke-width="0.55"/>
<line x1="185.2" x2="331.1" y1="334.7" y2="334.7" stroke="#fff" stroke-width="0.55"/>
<line x1="185.2" x2="331.1" y1="347.37" y2="347.37" stroke="#fff" stroke-width="0.55"/>
<line x1="185.2" x2="331.1" y1="360.04" y2="360.04" stroke="#fff" stroke-width="0.55"/>
<line x1="185.2" x2="331.1" y1="372.72" y2="372.72" stroke="#fff" stroke-width="0.55"/>
<line x1="185.2" x2="331.1" y1="385.39" y2="385.39" stroke="#fff" stroke-width="0.55"/>
<line x1="185.2" x2="331.1" y1="398.06" y2="398.06" stroke="#fff" stroke-width="0.55"/>
<line x1="185.2" x2="331.1" y1="410.73" y2="410.73" stroke="#fff" stroke-width="0.55"/>
<line x1="185.2" x2="331.1" y1="423.41" y2="423.41" stroke="#fff" stroke-width="0.55"/>
<line x1="185.2" x2="331.1" y1="436.08" y2="436.08" stroke="#fff" stroke-width="0.55"/>
<line x1="185.2" x2="331.1" y1="448.75" y2="448.75" stroke="#fff" stroke-width="0.55"/>
<line x1="185.2" x2="331.1" y1="461.43" y2="461.43" stroke="#fff" stroke-width="0.55"/>
<line x1="185.2" x2="331.1" y1="474.1" y2="474.1" stroke="#fff" stroke-width="0.55"/>
<line x1="185.2" x2="331.1" y1="486.77" y2="486.77" stroke="#fff" stroke-width="0.55"/>
<line x1="185.2" x2="331.1" y1="499.45" y2="499.45" stroke="#fff" stroke-width="0.55"/>
<rect x="191.83" y="303.65" width="16.58" height="11.41" fill="#FF5C9E"/>
<rect x="191.83" y="341.67" width="55.27" height="11.41" fill="#D07AFF"/>
<rect x="191.83" y="354.34" width="132.64" height="11.41" fill="#8090FF"/>
<rect x="191.83" y="367.01" width="93.95" height="11.41" fill="#00A4FF"/>
<rect x="191.83" y="379.69" width="58.03" height="11.41" fill="#00B6E8"/>
<rect x="191.83" y="392.36" width="44.21" height="11.41" fill="#00C0C4"/>
<rect x="191.83" y="405.03" width="69.08" height="11.41" fill="#00C8A0"/>
<rect x="191.83" y="417.7" width="60.79" height="11.41" fill="#00C466"/>
<rect x="191.83" y="443.05" width="46.98" height="11.41" fill="#72B400"/>
<rect x="191.83" y="455.72" width="77.37" height="11.41" fill="#B4A800"/>
<rect x="191.83" y="481.07" width="91.19" height="11.41" fill="#FF8A00"/>
<rect x="191.83" y="493.74" width="93.95" height="11.41" fill="#FF7676"/>
<clipPath id="cB1"><rect x="185.2" y="301.25" width="145.9" height="205.2"/></clipPath><g clip-path="url(#cB1)">
<text transform="translate(208.41,312.15) skewY(0.15)" font-size="7.4" fill="#000" stroke="#000" stroke-width="0.09" text-anchor="middle">6</text>
<text transform="translate(191.83,324.82) skewY(0.15)" font-size="7.4" fill="#000" stroke="#000" stroke-width="0.09" text-anchor="middle">0</text>
<text transform="translate(191.83,337.5) skewY(0.15)" font-size="7.4" fill="#000" stroke="#000" stroke-width="0.09" text-anchor="middle">0</text>
<text transform="translate(247.1,350.17) skewY(0.15)" font-size="7.4" fill="#000" stroke="#000" stroke-width="0.09" text-anchor="middle">20</text>
<text transform="translate(324.47,362.84) skewY(0.15)" font-size="7.4" fill="#000" stroke="#000" stroke-width="0.09" text-anchor="middle">48</text>
<text transform="translate(285.78,375.51) skewY(0.15)" font-size="7.4" fill="#000" stroke="#000" stroke-width="0.09" text-anchor="middle">34</text>
<text transform="translate(249.86,388.19) skewY(0.15)" font-size="7.4" fill="#000" stroke="#000" stroke-width="0.09" text-anchor="middle">21</text>
<text transform="translate(236.04,400.86) skewY(0.15)" font-size="7.4" fill="#000" stroke="#000" stroke-width="0.09" text-anchor="middle">16</text>
<text transform="translate(260.91,413.53) skewY(0.15)" font-size="7.4" fill="#000" stroke="#000" stroke-width="0.09" text-anchor="middle">25</text>
<text transform="translate(252.62,426.21) skewY(0.15)" font-size="7.4" fill="#000" stroke="#000" stroke-width="0.09" text-anchor="middle">22</text>
<text transform="translate(191.83,438.88) skewY(0.15)" font-size="7.4" fill="#000" stroke="#000" stroke-width="0.09" text-anchor="middle">0</text>
<text transform="translate(238.81,451.55) skewY(0.15)" font-size="7.4" fill="#000" stroke="#000" stroke-width="0.09" text-anchor="middle">17</text>
<text transform="translate(269.2,464.23) skewY(0.15)" font-size="7.4" fill="#000" stroke="#000" stroke-width="0.09" text-anchor="middle">28</text>
<text transform="translate(191.83,476.9) skewY(0.15)" font-size="7.4" fill="#000" stroke="#000" stroke-width="0.09" text-anchor="middle">0</text>
<text transform="translate(283.02,489.57) skewY(0.15)" font-size="7.4" fill="#000" stroke="#000" stroke-width="0.09" text-anchor="middle">33</text>
<text transform="translate(285.78,502.24) skewY(0.15)" font-size="7.4" fill="#000" stroke="#000" stroke-width="0.09" text-anchor="middle">34</text>
</g>
<rect x="334.85" y="290.45" width="145.9" height="10.8" fill="#d9d9d9"/>
<text transform="translate(407.8,298.3) skewY(0.15)" font-size="6.0" fill="#1a1a1a" stroke="#1a1a1a" stroke-width="0.04" text-anchor="middle">TR4</text>
<rect x="334.85" y="301.25" width="145.9" height="205.2" fill="#ebebeb"/>
<line x1="354.75" x2="354.75" y1="301.25" y2="506.45" stroke="#fff" stroke-width="0.22"/>
<line x1="381.27" x2="381.27" y1="301.25" y2="506.45" stroke="#fff" stroke-width="0.22"/>
<line x1="407.8" x2="407.8" y1="301.25" y2="506.45" stroke="#fff" stroke-width="0.22"/>
<line x1="434.33" x2="434.33" y1="301.25" y2="506.45" stroke="#fff" stroke-width="0.22"/>
<line x1="460.85" x2="460.85" y1="301.25" y2="506.45" stroke="#fff" stroke-width="0.22"/>
<line x1="341.48" x2="341.48" y1="301.25" y2="506.45" stroke="#fff" stroke-width="0.55"/>
<line x1="341.48" x2="341.48" y1="506.45" y2="508.05" stroke="#2a2a2a" stroke-width="0.9"/>
<text transform="translate(341.48,514.45) skewY(0.15)" font-size="6.0" fill="#4d4d4d" stroke="#4d4d4d" stroke-width="0.04" text-anchor="middle">0</text>
<line x1="368.01" x2="368.01" y1="301.25" y2="506.45" stroke="#fff" stroke-width="0.55"/>
<line x1="368.01" x2="368.01" y1="506.45" y2="508.05" stroke="#2a2a2a" stroke-width="0.9"/>
<text transform="translate(368.01,514.45) skewY(0.15)" font-size="6.0" fill="#4d4d4d" stroke="#4d4d4d" stroke-width="0.04" text-anchor="middle">10</text>
<line x1="394.54" x2="394.54" y1="301.25" y2="506.45" stroke="#fff" stroke-width="0.55"/>
<line x1="394.54" x2="394.54" y1="506.45" y2="508.05" stroke="#2a2a2a" stroke-width="0.9"/>
<text transform="translate(394.54,514.45) skewY(0.15)" font-size="6.0" fill="#4d4d4d" stroke="#4d4d4d" stroke-width="0.04" text-anchor="middle">20</text>
<line x1="421.06" x2="421.06" y1="301.25" y2="506.45" stroke="#fff" stroke-width="0.55"/>
<line x1="421.06" x2="421.06" y1="506.45" y2="508.05" stroke="#2a2a2a" stroke-width="0.9"/>
<text transform="translate(421.06,514.45) skewY(0.15)" font-size="6.0" fill="#4d4d4d" stroke="#4d4d4d" stroke-width="0.04" text-anchor="middle">30</text>
<line x1="447.59" x2="447.59" y1="301.25" y2="506.45" stroke="#fff" stroke-width="0.55"/>
<line x1="447.59" x2="447.59" y1="506.45" y2="508.05" stroke="#2a2a2a" stroke-width="0.9"/>
<text transform="translate(447.59,514.45) skewY(0.15)" font-size="6.0" fill="#4d4d4d" stroke="#4d4d4d" stroke-width="0.04" text-anchor="middle">40</text>
<line x1="474.12" x2="474.12" y1="301.25" y2="506.45" stroke="#fff" stroke-width="0.55"/>
<line x1="474.12" x2="474.12" y1="506.45" y2="508.05" stroke="#2a2a2a" stroke-width="0.9"/>
<text transform="translate(474.12,514.45) skewY(0.15)" font-size="6.0" fill="#4d4d4d" stroke="#4d4d4d" stroke-width="0.04" text-anchor="middle">50</text>
<line x1="334.85" x2="480.75" y1="309.35" y2="309.35" stroke="#fff" stroke-width="0.55"/>
<line x1="334.85" x2="480.75" y1="322.02" y2="322.02" stroke="#fff" stroke-width="0.55"/>
<line x1="334.85" x2="480.75" y1="334.7" y2="334.7" stroke="#fff" stroke-width="0.55"/>
<line x1="334.85" x2="480.75" y1="347.37" y2="347.37" stroke="#fff" stroke-width="0.55"/>
<line x1="334.85" x2="480.75" y1="360.04" y2="360.04" stroke="#fff" stroke-width="0.55"/>
<line x1="334.85" x2="480.75" y1="372.72" y2="372.72" stroke="#fff" stroke-width="0.55"/>
<line x1="334.85" x2="480.75" y1="385.39" y2="385.39" stroke="#fff" stroke-width="0.55"/>
<line x1="334.85" x2="480.75" y1="398.06" y2="398.06" stroke="#fff" stroke-width="0.55"/>
<line x1="334.85" x2="480.75" y1="410.73" y2="410.73" stroke="#fff" stroke-width="0.55"/>
<line x1="334.85" x2="480.75" y1="423.41" y2="423.41" stroke="#fff" stroke-width="0.55"/>
<line x1="334.85" x2="480.75" y1="436.08" y2="436.08" stroke="#fff" stroke-width="0.55"/>
<line x1="334.85" x2="480.75" y1="448.75" y2="448.75" stroke="#fff" stroke-width="0.55"/>
<line x1="334.85" x2="480.75" y1="461.43" y2="461.43" stroke="#fff" stroke-width="0.55"/>
<line x1="334.85" x2="480.75" y1="474.1" y2="474.1" stroke="#fff" stroke-width="0.55"/>
<line x1="334.85" x2="480.75" y1="486.77" y2="486.77" stroke="#fff" stroke-width="0.55"/>
<line x1="334.85" x2="480.75" y1="499.45" y2="499.45" stroke="#fff" stroke-width="0.55"/>
<rect x="341.48" y="303.65" width="53.05" height="11.41" fill="#FF5C9E"/>
<rect x="341.48" y="341.67" width="55.71" height="11.41" fill="#D07AFF"/>
<rect x="341.48" y="354.34" width="132.64" height="11.41" fill="#8090FF"/>
<rect x="341.48" y="367.01" width="106.11" height="11.41" fill="#00A4FF"/>
<rect x="341.48" y="379.69" width="55.71" height="11.41" fill="#00B6E8"/>
<rect x="341.48" y="392.36" width="66.32" height="11.41" fill="#00C0C4"/>
<rect x="341.48" y="405.03" width="74.28" height="11.41" fill="#00C8A0"/>
<rect x="341.48" y="417.7" width="63.67" height="11.41" fill="#00C466"/>
<rect x="341.48" y="443.05" width="55.71" height="11.41" fill="#72B400"/>
<rect x="341.48" y="455.72" width="76.93" height="11.41" fill="#B4A800"/>
<rect x="341.48" y="481.07" width="114.07" height="11.41" fill="#FF8A00"/>
<rect x="341.48" y="493.74" width="95.5" height="11.41" fill="#FF7676"/>
<clipPath id="cB2"><rect x="334.85" y="301.25" width="145.9" height="205.2"/></clipPath><g clip-path="url(#cB2)">
<text transform="translate(394.54,312.15) skewY(0.15)" font-size="7.4" fill="#000" stroke="#000" stroke-width="0.09" text-anchor="middle">20</text>
<text transform="translate(341.48,324.82) skewY(0.15)" font-size="7.4" fill="#000" stroke="#000" stroke-width="0.09" text-anchor="middle">0</text>
<text transform="translate(341.48,337.5) skewY(0.15)" font-size="7.4" fill="#000" stroke="#000" stroke-width="0.09" text-anchor="middle">0</text>
<text transform="translate(397.19,350.17) skewY(0.15)" font-size="7.4" fill="#000" stroke="#000" stroke-width="0.09" text-anchor="middle">21</text>
<text transform="translate(474.12,362.84) skewY(0.15)" font-size="7.4" fill="#000" stroke="#000" stroke-width="0.09" text-anchor="middle">50</text>
<text transform="translate(447.59,375.51) skewY(0.15)" font-size="7.4" fill="#000" stroke="#000" stroke-width="0.09" text-anchor="middle">40</text>
<text transform="translate(397.19,388.19) skewY(0.15)" font-size="7.4" fill="#000" stroke="#000" stroke-width="0.09" text-anchor="middle">21</text>
<text transform="translate(407.8,400.86) skewY(0.15)" font-size="7.4" fill="#000" stroke="#000" stroke-width="0.09" text-anchor="middle">25</text>
<text transform="translate(415.76,413.53) skewY(0.15)" font-size="7.4" fill="#000" stroke="#000" stroke-width="0.09" text-anchor="middle">28</text>
<text transform="translate(405.15,426.21) skewY(0.15)" font-size="7.4" fill="#000" stroke="#000" stroke-width="0.09" text-anchor="middle">24</text>
<text transform="translate(341.48,438.88) skewY(0.15)" font-size="7.4" fill="#000" stroke="#000" stroke-width="0.09" text-anchor="middle">0</text>
<text transform="translate(397.19,451.55) skewY(0.15)" font-size="7.4" fill="#000" stroke="#000" stroke-width="0.09" text-anchor="middle">21</text>
<text transform="translate(418.41,464.23) skewY(0.15)" font-size="7.4" fill="#000" stroke="#000" stroke-width="0.09" text-anchor="middle">29</text>
<text transform="translate(341.48,476.9) skewY(0.15)" font-size="7.4" fill="#000" stroke="#000" stroke-width="0.09" text-anchor="middle">0</text>
<text transform="translate(455.55,489.57) skewY(0.15)" font-size="7.4" fill="#000" stroke="#000" stroke-width="0.09" text-anchor="middle">43</text>
<text transform="translate(436.98,502.24) skewY(0.15)" font-size="7.4" fill="#000" stroke="#000" stroke-width="0.09" text-anchor="middle">36</text>
</g>
<text transform="translate(258.43,522.38) skewY(0.15)" font-size="6.65" fill="#000" stroke="#000" stroke-width="0.04" text-anchor="middle">Number of tRNA</text>
<text transform="translate(243.5,542.64) skewY(0.15)" font-size="11" fill="#000" stroke="#000" stroke-width="0" text-anchor="middle" style="font-family:'Liberation Serif',serif">(<tspan font-weight="bold">B</tspan>)</text>
</svg>
</body></html>
